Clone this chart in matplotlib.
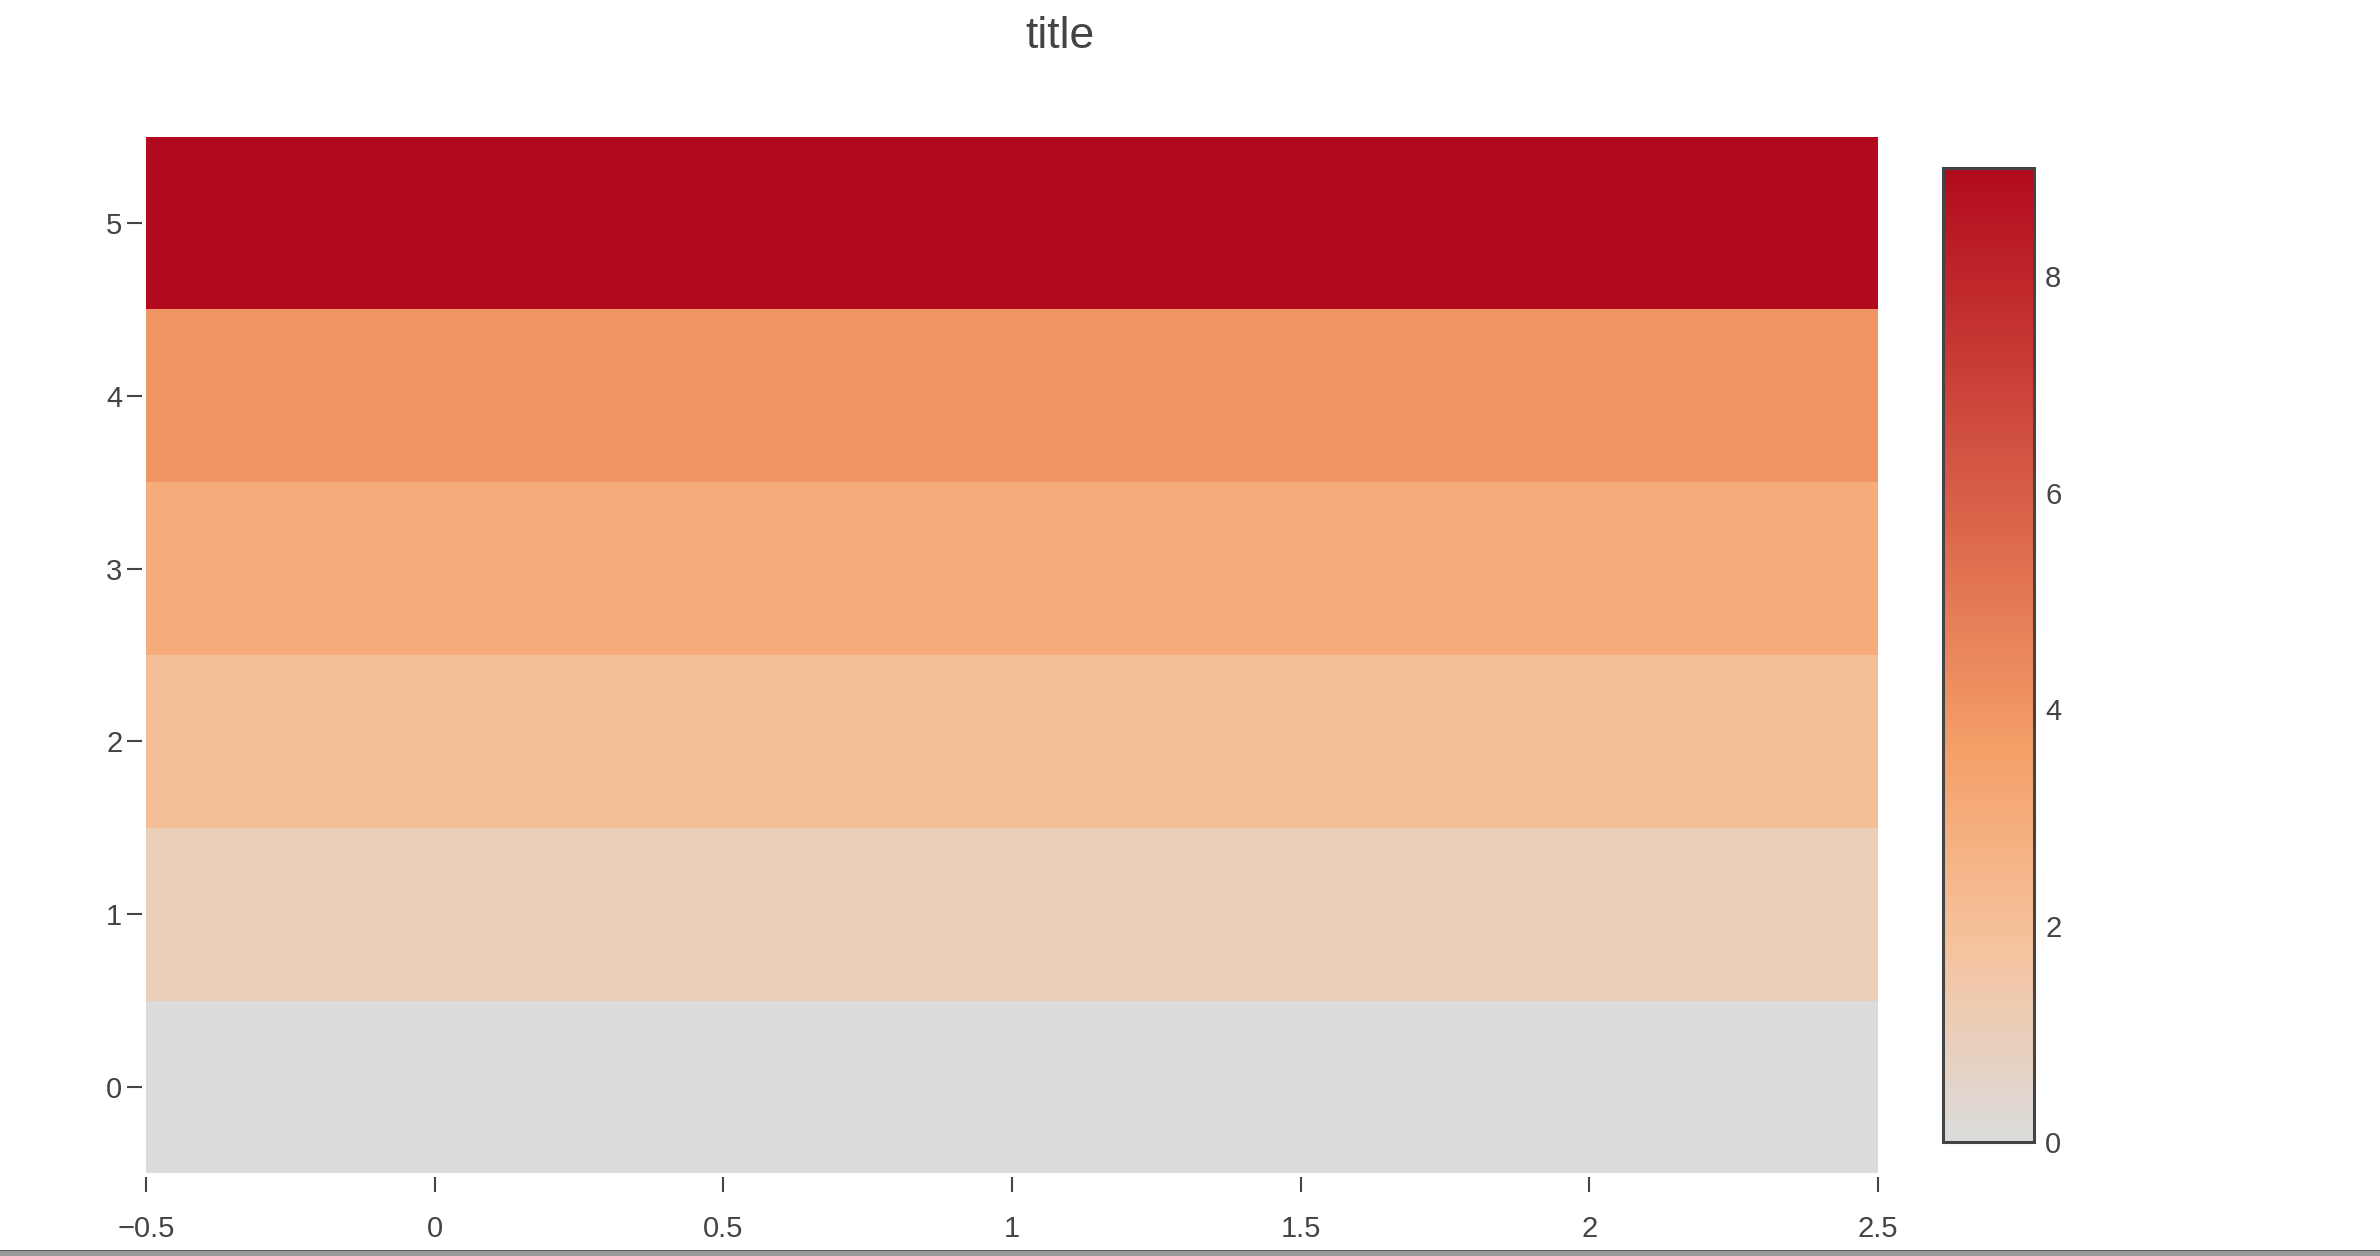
import matplotlib.pyplot as plt
import numpy as np
from matplotlib.colors import LinearSegmentedColormap
from matplotlib.patches import Rectangle

# data (rows are y = 0..5, columns are x = 0..2)
x_labels = [0, 1, 2]
y_labels = [0, 1, 2, 3, 4, 5]
row_values = [0, 1, 2, 3, 4, 9]
z = np.array([[v, v, v] for v in row_values])

# plotly's old "Reds" scale
scale_stops = [0.0, 0.2, 0.4, 1.0]
scale_colors = ['#dcdcdc', '#f5c39d', '#f5a069', '#b20a1c']

TEXT = '#444444'
plt.rcParams['font.family'] = ['Liberation Sans', 'DejaVu Sans']

cmap = LinearSegmentedColormap.from_list('plotly_reds', list(zip(scale_stops, scale_colors)))

fig = plt.figure(figsize=(23.8, 12.56), dpi=100)
ax = fig.add_axes([0.0613, 0.066, 0.7277, 0.825])
im = ax.imshow(z, cmap=cmap, vmin=0, vmax=9, origin='lower', aspect='auto',
               interpolation='nearest',
               extent=[x_labels[0] - 0.5, x_labels[-1] + 0.5, y_labels[0] - 0.5, y_labels[-1] + 0.5])

for s in ax.spines.values():
    s.set_visible(False)
ax.spines['left'].set_position(('outward', 2.5))
ax.spines['bottom'].set_position(('outward', 2.5))

ax.set_xticks([-0.5, 0, 0.5, 1, 1.5, 2, 2.5])
ax.set_xticklabels(['\u22120.5', '0', '0.5', '1', '1.5', '2', '2.5'])
ax.set_yticks(y_labels)
ax.tick_params(axis='x', length=11, width=1.5, color=TEXT, labelcolor=TEXT, labelsize=21, pad=17)
ax.tick_params(axis='y', length=10.5, width=1.5, color=TEXT, labelcolor=TEXT, labelsize=21, pad=4)

cax = fig.add_axes([0.8164, 0.0908, 0.0382, 0.7755])
cb = fig.colorbar(im, cax=cax)
cb.set_ticks([0, 2, 4, 6, 8])
cb.outline.set_edgecolor(TEXT)
cb.outline.set_linewidth(2.2)
cax.tick_params(length=0, labelcolor=TEXT, labelsize=21, pad=8)

fig.text(0.4454, 0.971, 'title', ha='center', va='center', fontsize=32, color=TEXT)

# grey strip along the bottom edge of the screenshot
fig.patches.append(Rectangle((0, 0), 1, 6 / 1256, transform=fig.transFigure,
                             facecolor='#999999', edgecolor='none'))
fig.patches.append(Rectangle((0, 5 / 1256), 1, 1.5 / 1256, transform=fig.transFigure,
                             facecolor='#5a5a5a', edgecolor='none'))

fig.savefig('out.png', dpi=100)
